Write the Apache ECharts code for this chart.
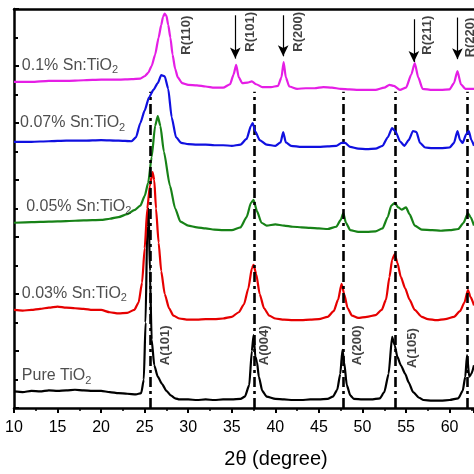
<!DOCTYPE html>
<html>
<head>
<meta charset="utf-8">
<script src="https://cdn.jsdelivr.net/npm/echarts@6/dist/echarts.min.js"></script>
<style>
html,body{margin:0;padding:0;background:#fff;}
#chart{width:474px;height:474px;}
</style>
</head>
<body>
<div id="chart"></div>
<script>
// ---- data (2θ in degrees, intensity in offset arbitrary units) ----
const pureTiO2 = [[10,0.29],[11,0.28],[12,0.3],[13,0.29],[14,0.31],[15,0.3],[16,0.31],[17,0.32],[18,0.31],[19,0.3],[20,0.3],[21,0.28],[22,0.26],[23,0.25],[24,0.24],[24.6,0.26],[24.9,0.5],[25.1,1.5],[25.3,3.2],[25.45,3.5],[25.6,2.4],[25.8,1.2],[26.1,0.75],[26.5,0.55],[27,0.42],[27.5,0.3],[28,0.22],[28.5,0.17],[29,0.15],[30,0.15],[31,0.14],[32,0.15],[33,0.14],[34,0.15],[35,0.15],[36,0.16],[36.5,0.2],[37,0.4],[37.3,1.0],[37.5,1.28],[37.7,0.9],[37.9,0.8],[38.1,0.55],[38.5,0.3],[39,0.2],[40,0.16],[41,0.15],[42,0.14],[43,0.14],[44,0.15],[45,0.15],[46,0.16],[46.6,0.2],[47.1,0.32],[47.45,0.6],[47.7,1.02],[47.9,0.8],[48.2,0.4],[48.6,0.22],[49,0.16],[50,0.15],[51,0.15],[52,0.17],[52.5,0.28],[53,0.6],[53.4,1.25],[53.7,1.1],[54,0.9],[54.4,0.75],[54.9,0.6],[55.3,0.45],[55.8,0.28],[56.5,0.18],[57,0.14],[58,0.13],[59,0.13],[60,0.14],[61,0.17],[61.5,0.3],[61.8,0.55],[62.0,0.93],[62.25,0.55],[62.5,0.6],[62.8,0.75]];
const sn003 = [[10,1.72],[11,1.71],[12,1.72],[13,1.74],[14,1.76],[15,1.78],[16,1.76],[17,1.75],[18,1.74],[19,1.72],[20,1.72],[21,1.68],[22,1.66],[23,1.67],[23.8,1.72],[24.3,1.85],[24.7,2.2],[25.0,2.8],[25.3,3.5],[25.6,3.9],[25.9,4.14],[26.1,4.0],[26.3,3.5],[26.6,2.9],[26.9,2.4],[27.3,2.0],[27.8,1.75],[28.3,1.62],[29,1.57],[30,1.55],[31,1.55],[32,1.56],[33,1.56],[34,1.57],[35,1.6],[35.8,1.68],[36.4,1.82],[36.9,2.1],[37.3,2.45],[37.5,2.51],[37.8,2.35],[38.2,2.0],[38.7,1.75],[39.3,1.62],[40,1.57],[41,1.55],[42,1.54],[43,1.54],[44,1.55],[45,1.56],[46,1.6],[46.7,1.7],[47.2,1.9],[47.6,2.18],[47.9,2.0],[48.3,1.75],[48.8,1.62],[49.5,1.58],[50.5,1.6],[51.5,1.63],[52.2,1.72],[52.7,1.9],[53.1,2.3],[53.4,2.6],[53.7,2.7],[54.0,2.55],[54.4,2.3],[54.9,2.1],[55.4,1.9],[56,1.72],[56.8,1.6],[57.5,1.56],[58.5,1.54],[59.5,1.56],[60.5,1.6],[61.2,1.7],[61.7,1.85],[62.1,2.07],[62.4,1.95],[62.8,1.8]];
const sn005 = [[10,3.25],[12,3.26],[14,3.27],[16,3.28],[18,3.29],[20,3.3],[21,3.32],[22,3.35],[23,3.4],[23.8,3.47],[24.5,3.55],[25.0,3.72],[25.4,3.95],[25.8,4.4],[26.2,4.95],[26.5,5.12],[26.8,4.95],[27.2,4.5],[27.9,3.9],[28.5,3.5],[29.1,3.27],[30,3.2],[31,3.17],[32,3.15],[33,3.13],[34,3.12],[35,3.12],[36,3.17],[36.7,3.35],[37.2,3.6],[37.5,3.65],[37.9,3.45],[38.4,3.25],[39,3.2],[40,3.22],[41,3.2],[42,3.18],[43,3.17],[44,3.16],[45,3.15],[46,3.14],[47,3.18],[47.5,3.3],[47.8,3.42],[48.1,3.25],[48.6,3.12],[49.5,3.09],[50.5,3.09],[51.5,3.1],[52.3,3.15],[52.9,3.35],[53.3,3.55],[53.7,3.6],[54.1,3.52],[54.5,3.48],[55.0,3.52],[55.4,3.4],[56,3.2],[56.8,3.13],[58,3.12],[59,3.11],[60,3.12],[61,3.14],[61.6,3.25],[62.1,3.42],[62.4,3.35],[62.8,3.2]];
const sn007 = [[10,4.67],[12,4.67],[14,4.68],[16,4.69],[18,4.69],[20,4.7],[22,4.69],[23.5,4.68],[24.0,4.75],[24.5,5.0],[25.0,5.22],[25.5,5.45],[26.0,5.58],[26.5,5.7],[26.9,5.84],[27.3,5.82],[27.7,5.6],[28.1,5.1],[28.6,4.75],[29.2,4.65],[30,4.63],[31,4.62],[32,4.62],[33,4.61],[34,4.61],[35,4.6],[36,4.62],[36.7,4.72],[37.2,4.95],[37.4,5.0],[37.7,4.85],[38.2,4.7],[39,4.62],[40,4.6],[40.6,4.66],[40.9,4.84],[41.2,4.66],[41.8,4.6],[43,4.58],[44,4.58],[45,4.58],[46,4.59],[47,4.6],[47.6,4.65],[48,4.65],[48.6,4.58],[49.5,4.55],[50.5,4.54],[51.5,4.55],[52.3,4.6],[52.9,4.75],[53.4,4.91],[53.8,4.85],[54.3,4.68],[54.8,4.6],[55.3,4.7],[55.8,4.86],[56.2,4.84],[56.6,4.65],[57.2,4.57],[58,4.56],[59,4.56],[60,4.57],[60.5,4.65],[60.9,4.86],[61.2,4.7],[61.5,4.65],[61.9,4.8],[62.2,4.86],[62.5,4.7],[62.8,4.6]];
const sn01 = [[10,5.72],[12,5.72],[14,5.74],[16,5.74],[18,5.75],[20,5.76],[22,5.76],[23.5,5.77],[24.5,5.78],[25.0,5.82],[25.4,5.88],[25.8,6.0],[26.2,6.2],[26.6,6.5],[26.9,6.72],[27.1,6.86],[27.3,6.92],[27.5,6.88],[27.7,6.72],[27.95,6.5],[28.2,6.2],[28.5,5.95],[28.8,5.8],[29.3,5.7],[30,5.67],[31,5.66],[32,5.64],[33,5.62],[34,5.62],[34.8,5.68],[35.2,5.85],[35.5,6.02],[35.8,5.8],[36.2,5.7],[36.8,5.71],[37.3,5.73],[37.8,5.68],[38.5,5.63],[39.5,5.63],[40.3,5.65],[40.7,5.8],[40.95,6.07],[41.2,5.8],[41.6,5.64],[42.5,5.6],[43.5,5.61],[44.5,5.61],[45.5,5.63],[46.5,5.62],[47.5,5.6],[48.5,5.59],[49.5,5.58],[50.5,5.58],[51.5,5.58],[52.5,5.62],[53.1,5.67],[53.6,5.65],[54.3,5.58],[55,5.62],[55.6,5.85],[56.0,6.05],[56.4,5.8],[56.9,5.6],[58,5.58],[59,5.58],[60,5.59],[60.5,5.7],[60.9,5.91],[61.3,5.68],[61.8,5.6],[62.3,5.6],[62.8,5.6]];

const seriesNames = ['Pure TiO{s|2}', '0.03% Sn:TiO{s|2}', '0.05% Sn:TiO{s|2}', '0.07% Sn:TiO{s|2}', '0.1% Sn:TiO{s|2}'];
const seriesLabelPos = [[10.9,0.56],[10.9,2.01],[11.4,3.54],[10.7,5.0],[10.9,6.01]];
const seriesColors = ['#000000', '#e60000', '#178217', '#1010e0', '#e51ee5'];

const anatasePos = [25.65, 37.55, 47.77, 53.74, 62.0];
const anataseLineTop = 5.55;
const anataseLabels = ['A(101)', 'A(004)', 'A(200)', 'A(105)'];
const anataseLabelPos = [[27.35,1.1],[38.8,1.1],[49.4,1.1],[55.7,1.05]];

const rutileLabels = ['R(110)', 'R(101)', 'R(200)', 'R(211)', 'R(220)'];
const rutileLabelPos = [[29.8,6.54],[37.1,6.6],[42.6,6.6],[57.4,6.54],[62.35,6.5]];
const rutileArrows = [[35.4,6.89,6.13],[40.9,6.89,6.17],[55.9,6.82,6.07],[60.9,6.85,6.12]];

const xTicks = {min: 10, max: 62.8, interval: 5};
const yTicks = {min: 0, max: 7, interval: 1};

// ---- chart ----
const FONT = '"Liberation Sans", Arial, sans-serif';
const chart = echarts.init(document.getElementById('chart'), null, {renderer: 'canvas'});
const dataSets = [pureTiO2, sn003, sn005, sn007, sn01];

const lineSeries = dataSets.map((d, i) => ({
  type: 'line', data: d, showSymbol: false, symbol: 'none', smooth: 0.2, smoothMonotone: 'x',
  lineStyle: {color: seriesColors[i], width: 2.2}, z: 2 + i, animation: false
}));

const textSeries = {
  type: 'scatter', symbolSize: 0, z: 20, animation: false, silent: true,
  data: [].concat(
    seriesNames.map((n, i) => ({value: seriesLabelPos[i], label: {show: true, position: 'right', distance: 0,
      formatter: n, fontSize: 16, color: '#222', fontFamily: FONT,
      rich: {s: {fontSize: 11, color: '#222', fontFamily: FONT, padding: [9, 0, 0, 0]}}}})),
    anataseLabels.map((n, i) => ({value: anataseLabelPos[i], label: {show: true, position: 'inside', rotate: 90,
      formatter: n, fontSize: 13, fontWeight: 'bold', color: '#111', fontFamily: FONT}})),
    rutileLabels.map((n, i) => ({value: rutileLabelPos[i], label: {show: true, position: 'inside', rotate: 90,
      formatter: n, fontSize: 13, fontWeight: 'bold', color: '#111', fontFamily: FONT}}))
  ),
  markLine: {
    silent: true, symbol: ['none', 'none'], animation: false, label: {show: false},
    lineStyle: {color: '#000', width: 2.6, type: [10, 4, 3, 4]},
    data: anatasePos.map(x => [{coord: [x, 0]}, {coord: [x, anataseLineTop]}])
  }
};

const arrowSeries = {
  type: 'scatter', symbolSize: 0, data: [], z: 21, silent: true, animation: false,
  markLine: {
    silent: true, animation: false, symbol: ['none', 'arrow'], symbolSize: [8, 11], label: {show: false},
    lineStyle: {color: '#000', width: 1.2, type: 'solid'},
    data: rutileArrows.map(a => [{coord: [a[0], a[1]]}, {coord: [a[0], a[2]]}])
  }
};

chart.setOption({
  backgroundColor: '#fff',
  animation: false,
  grid: {left: 14, top: 9, right: 0, bottom: 66, containLabel: false},
  xAxis: [{
    type: 'value', min: xTicks.min, max: xTicks.max, interval: xTicks.interval,
    axisLine: {show: true, onZero: false, lineStyle: {color: '#000', width: 2.5}},
    axisTick: {show: true, inside: false, length: 5, lineStyle: {color: '#000', width: 2}},
    minorTick: {show: true, splitNumber: 2, length: 3, lineStyle: {color: '#000', width: 1.5}},
    axisLabel: {fontSize: 16, color: '#000', margin: 12, fontFamily: FONT, showMaxLabel: false},
    splitLine: {show: false}
  }, {
    type: 'value', position: 'top', min: xTicks.min, max: xTicks.max,
    axisLine: {show: true, onZero: false, lineStyle: {color: '#000', width: 2.5}},
    axisTick: {show: false}, axisLabel: {show: false}, splitLine: {show: false}
  }],
  yAxis: {
    type: 'value', min: yTicks.min, max: yTicks.max, interval: yTicks.interval,
    axisLine: {show: true, onZero: false, lineStyle: {color: '#000', width: 2.5}},
    axisTick: {show: true, inside: true, length: 5, lineStyle: {color: '#000', width: 2}},
    minorTick: {show: true, splitNumber: 2, length: 4, lineStyle: {color: '#000', width: 2}},
    axisLabel: {show: false}, splitLine: {show: false}
  },
  graphic: [{
    type: 'text', x: 276, y: 459, silent: true,
    style: {text: '2θ (degree)', fontSize: 20, fill: '#000', fontFamily: FONT, textAlign: 'center', textVerticalAlign: 'middle'}
  }],
  series: lineSeries.concat([textSeries, arrowSeries])
});
</script>
</body>
</html>
